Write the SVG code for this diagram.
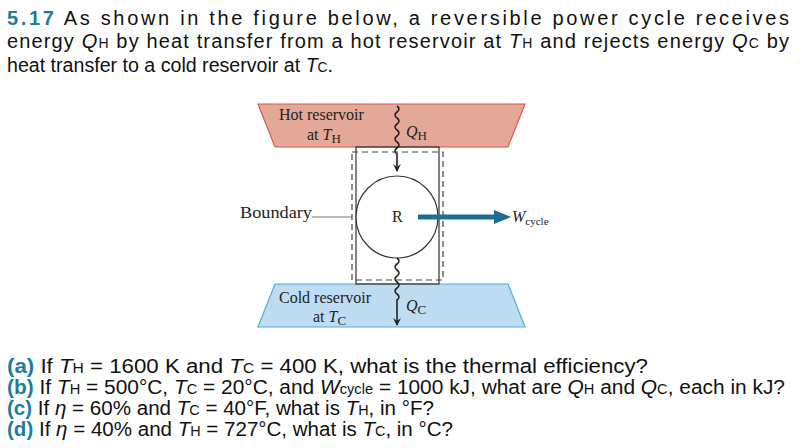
<svg xmlns="http://www.w3.org/2000/svg" width="806" height="448" viewBox="0 0 806 448">
<style>
.t{font-family:"Liberation Sans",Arial,sans-serif;font-size:20px;fill:#111}
.n{fill:#1f7c9c;font-weight:bold}
.s{font-family:"Liberation Serif","Times New Roman",serif;font-size:16px;fill:#222}
.w{fill:none;stroke:#222;stroke-width:1.6}
</style>
<defs><marker id="ah" markerWidth="8" markerHeight="8" refX="4" refY="7" orient="0" markerUnits="userSpaceOnUse"><path d="M0,0 L4,8 L8,0 L4,3z" fill="#222"/></marker></defs>
<rect width="806" height="448" fill="#fff"/>
<text class="t" x="7" y="25" textLength="782" lengthAdjust="spacing"><tspan class="n">5.17</tspan> As shown in the figure below, a reversible power cycle receives</text>
<text class="t" x="7" y="48" textLength="782" lengthAdjust="spacing">energy <tspan font-style="italic">Q</tspan><tspan font-size="14">H</tspan> by heat transfer from a hot reservoir at <tspan font-style="italic">T</tspan><tspan font-size="14">H</tspan> and rejects energy <tspan font-style="italic">Q</tspan><tspan font-size="14">C</tspan> by</text>
<text class="t" x="7" y="72" textLength="326" lengthAdjust="spacingAndGlyphs">heat transfer to a cold reservoir at <tspan font-style="italic">T</tspan><tspan font-size="14">C</tspan>.</text>
<g id="hot"><path d="M258,104 L525,104 L508,147 L275,147 Z" fill="#E3A898" stroke="#d65a4e" stroke-width="1.2"/>
<text class="s" x="279" y="120">Hot reservoir</text><text class="s" x="307" y="140">at <tspan font-style="italic">T</tspan><tspan font-size="13" dy="3">H</tspan></text>
<text class="s" x="406" y="137" font-style="italic">Q<tspan font-style="normal" font-size="13" dy="3">H</tspan></text></g>
<g id="cold"><path d="M275,284 L508,284 L525,327 L258,327 Z" fill="#BEDDF3" stroke="#4aaedf" stroke-width="1.2"/>
<text class="s" x="279" y="303">Cold reservoir</text><text class="s" x="313" y="322">at <tspan font-style="italic">T</tspan><tspan font-size="13" dy="3">C</tspan></text>
<text class="s" x="406" y="311" font-style="italic">Q<tspan font-style="normal" font-size="13" dy="3">C</tspan></text></g>
<g id="boundary"><rect x="356" y="147" width="83" height="137" fill="none" stroke="#333" stroke-width="1.2"/>
<rect x="352" y="152" width="91" height="128" fill="none" stroke="#444" stroke-width="1.2" stroke-dasharray="6,4"/>
<text class="s" x="240" y="218" textLength="72" lengthAdjust="spacingAndGlyphs">Boundary</text></g>
<g id="engine"><circle cx="397" cy="217" r="41" fill="#fff" stroke="#333" stroke-width="1.2"/><text class="s" x="392" y="222">R</text></g>
<g id="work"><text class="s" x="512" y="222" font-style="italic">W<tspan font-style="normal" font-size="11" dy="3">cycle</tspan></text></g>
<g id="connectors">
<path d="M312,217 H352" stroke="#555" stroke-width="0.8" fill="none"/>
<path d="M418,217 H496" stroke="#1f6f95" stroke-width="5" fill="none"/>
<path d="M494,210 L511,217 L494,224 Z" fill="#1f6f95"/>
<path class="w" d="M397,106 q4,3 0,6 q-4,3 0,6 q4,3 0,6 q-4,3 0,6 q4,3 0,6 q-4,3 0,6 q4,3 0,6 q-4,3 0,6 L397,171" marker-end="url(#ah)"/>
<path class="w" d="M397,258 q4,3 0,6 q-4,3 0,6 q4,3 0,6 q-4,3 0,6 q4,3 0,6 q-4,3 0,6 q4,3 0,6 L397,325" marker-end="url(#ah)"/>
</g>
<text class="t" x="7" y="373" textLength="641" lengthAdjust="spacingAndGlyphs"><tspan class="n">(a)</tspan>  If <tspan font-style="italic">T</tspan><tspan font-size="14">H</tspan> = 1600 K and <tspan font-style="italic">T</tspan><tspan font-size="14">C</tspan> = 400 K, what is the thermal efficiency?</text>
<text class="t" x="7" y="394" textLength="778" lengthAdjust="spacingAndGlyphs"><tspan class="n">(b)</tspan>  If <tspan font-style="italic">T</tspan><tspan font-size="14">H</tspan> = 500°C, <tspan font-style="italic">T</tspan><tspan font-size="14">C</tspan> = 20°C, and <tspan font-style="italic">W</tspan><tspan font-size="14">cycle</tspan> = 1000 kJ, what are <tspan font-style="italic">Q</tspan><tspan font-size="14">H</tspan> and <tspan font-style="italic">Q</tspan><tspan font-size="14">C</tspan>, each in kJ?</text>
<text class="t" x="7" y="415" textLength="427" lengthAdjust="spacingAndGlyphs"><tspan class="n">(c)</tspan>  If <tspan font-style="italic">η</tspan> = 60% and <tspan font-style="italic">T</tspan><tspan font-size="14">C</tspan> = 40°F, what is <tspan font-style="italic">T</tspan><tspan font-size="14">H</tspan>, in °F?</text>
<text class="t" x="7" y="436" textLength="446" lengthAdjust="spacingAndGlyphs"><tspan class="n">(d)</tspan>  If <tspan font-style="italic">η</tspan> = 40% and <tspan font-style="italic">T</tspan><tspan font-size="14">H</tspan> = 727°C, what is <tspan font-style="italic">T</tspan><tspan font-size="14">C</tspan>, in °C?</text>
</svg>
